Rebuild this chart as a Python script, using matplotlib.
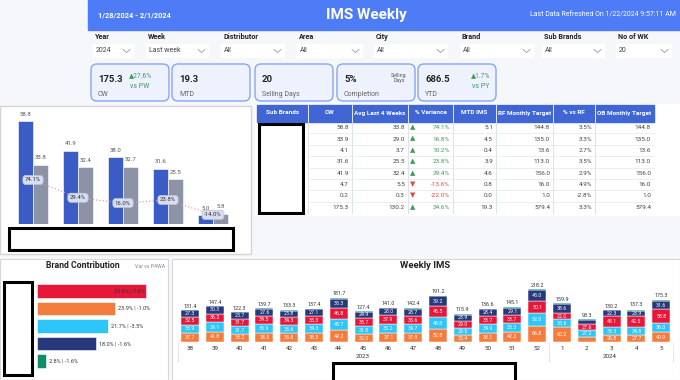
import matplotlib
matplotlib.use('Agg')
import matplotlib.pyplot as plt
from matplotlib.patches import Rectangle, FancyBboxPatch

plt.rcParams['font.family'] = ['Roboto', 'DejaVu Sans']

BLUE_HDR = '#4d7cf6'
BAR_BLUE = '#3b5cc4'
BAR_GRAY = '#8d93a6'
ORANGE = '#f47c3c'
CYAN = '#2ec5fa'
RED = '#e8173a'
NAVY = '#26397d'
GREEN = '#0f8c68'
UP = '#3e9b5a'
DOWN = '#e04848'

# ---- data ----
filter_labels = ['Year', 'Week', 'Distributor', 'Area', 'City', 'Brand', 'Sub Brands', 'No of WK']
filter_values = ['2024', 'Last week', 'All', 'All', 'All', 'All', 'All', '20']

kpi_values = ['175.3', '19.3', '20', '5%', '686.5']
kpi_labels = ['CW', 'MTD', 'Selling Days', 'Completion', 'YTD']

top_cw = [58.8, 41.9, 38.0, 31.6, 5.0]
top_avg = [33.8, 32.4, 32.7, 25.5, 5.8]
top_var = [74.1, 29.4, 16.0, 23.8, -14.0]

tbl_cols = ['Sub Brands', 'CW', 'Avg Last 4 Weeks', '% Variance', 'MTD IMS',
            'RF Monthly Target', '% vs RF', 'OB Monthly Target']
tbl_cw = [58.8, 33.9, 4.1, 31.6, 41.9, 4.7, 0.2, 175.3]
tbl_avg = [33.8, 29.0, 3.7, 25.5, 32.4, 5.5, 0.3, 130.2]
tbl_var = [74.1, 16.8, 10.2, 23.8, 29.4, -13.6, -22.0, 34.6]
tbl_mtd = [5.1, 4.5, 0.4, 3.9, 4.6, 0.8, 0.0, 19.3]
tbl_rf = [144.8, 135.0, 13.6, 113.0, 156.0, 16.0, 1.0, 579.4]
tbl_vs_rf = [3.5, 3.3, 2.7, 3.5, 2.9, 4.9, -2.8, 3.3]
tbl_ob = [144.8, 135.0, 13.6, 113.0, 156.0, 16.0, 1.0, 579.4]

brand_share = [33.6, 23.9, 21.7, 18.0, 2.8]
brand_var = [7.6, -1.0, -3.5, -1.6, -1.6]
brand_colors = [RED, ORANGE, CYAN, NAVY, GREEN]

weeks = ['38', '39', '40', '41', '42', '43', '44', '45', '46', '47', '48', '49', '50', '51', '52',
         '1', '2', '3', '4', '5']
totals = [131.4, 147.4, 122.3, 139.7, 133.3, 137.4, 181.7, 127.4, 141.0, 142.4, 191.2, 115.9,
          136.6, 145.1, 218.2, 159.9, 93.3, 130.2, 137.3, 175.3]
s_orange = [37.7, 41.8, 33.2, 38.5, 35.8, 38.3, 49.2, 32.0, 37.1, 37.9, 52.8, 30.4, 38.1, 42.2,
            66.8, 60.2, 20.5, 26.8, 27.7, 40.9]
s_cyan = [33.9, 39.1, 31.7, 35.9, 33.6, 34.3, 45.7, 31.8, 35.2, 34.7, 48.8, 28.5, 34.9, 35.3,
          52.0, 35.6, 27.2, 33.3, 34.8, 36.0]
s_red = [32.5, 36.2, 31.7, 34.5, 34.3, 35.3, 46.8, 35.7, 37.9, 35.6, 46.5, 29.0, 33.7, 33.7,
         50.1, 22.0, 27.6, 48.1, 42.5, 58.8]
s_navy = [27.3, 30.3, 25.7, 27.6, 25.8, 27.1, 35.3, 24.9, 28.0, 28.7, 39.2, 23.9, 28.4, 29.1,
          45.0, 38.6, 15.5, 22.3, 23.9, 31.6]
s_green = [0.0, 0.0, 0.0, 2.5, 2.5, 2.4, 3.0, 2.5, 2.5, 3.0, 3.5, 2.5, 1.5, 3.0, 4.0, 3.5,
           2.5, 2.0, 3.0, 4.9]

W, H = 680, 380
fig = plt.figure(figsize=(W / 100, H / 100), dpi=100)


def px_axes(x0, y0, x1, y1):
    return fig.add_axes([x0 / W, 1 - y1 / H, (x1 - x0) / W, (y1 - y0) / H])


bg = fig.add_axes([0, 0, 1, 1])
bg.set_xlim(0, W)
bg.set_ylim(H, 0)
bg.axis('off')
bg.add_patch(Rectangle((0, 0), W, H, color='#f6f7fb', zorder=0))

# header
bg.add_patch(Rectangle((88, 0), W - 88, 30, color=BLUE_HDR, zorder=1))
bg.text(98, 15, '1/28/2024 - 2/1/2024', color='white', fontsize=5.3, fontweight='bold',
        va='center', zorder=2)
bg.text(366, 15, 'IMS Weekly', color='white', fontsize=11, fontweight='bold',
        ha='center', va='center', zorder=2)
bg.text(676, 15, 'Last Data Refreshed On 1/22/2024 9:57:11 AM', color='white', fontsize=5,
        ha='right', va='center', zorder=2)

# filters
fx = [93, 146, 221, 297, 374, 460, 542, 616]
fw = [41, 63, 64, 66, 74, 74, 63, 56]
for x, w, lab, val in zip(fx, fw, filter_labels, filter_values):
    bg.text(x + 2, 37, lab, fontsize=5.2, fontweight='bold', color='#222', va='center', zorder=2)
    bg.add_patch(Rectangle((x, 44), w, 14, facecolor='white', edgecolor='none', zorder=1))
    bg.text(x + 3, 51, val, fontsize=5, color='#444', va='center', zorder=2)
    bg.plot([x + w - 11, x + w - 7.5, x + w - 4], [49.5, 52.5, 49.5], color='#999', lw=0.6, zorder=2)

# KPI cards
cx = [91, 172, 255, 337, 418]
for x, v, lab in zip(cx, kpi_values, kpi_labels):
    bg.add_patch(FancyBboxPatch((x, 64), 78, 37, boxstyle='round,pad=0,rounding_size=6',
                                facecolor='#eef2fe', edgecolor='#86a5f7', lw=1, zorder=1))
    bg.text(x + 7, 79, v, fontsize=6.8, fontweight='bold', color='#222', va='center', zorder=2)
    bg.text(x + 7, 95, lab, fontsize=5, color='#666', va='center', zorder=2)
bg.text(140, 76, '▲27.6%', fontsize=4.8, color=UP, ha='center', va='center', zorder=2)
bg.text(140, 86, 'vs PW', fontsize=5, color=UP, ha='center', va='center', zorder=2)
bg.text(399, 78, 'Selling\nDays', fontsize=3.8, color='#555', ha='center', va='center',
        linespacing=1.0, zorder=2)
bg.text(481, 76, '▲1.7%', fontsize=4.8, color=UP, ha='center', va='center', zorder=2)
bg.text(481, 86, 'vs PY', fontsize=5, color=UP, ha='center', va='center', zorder=2)

# panels
bg.add_patch(Rectangle((0, 106), 251, 148, facecolor='white', edgecolor='#d4d4d4', lw=1, zorder=1))
bg.add_patch(Rectangle((255, 104), W - 255, 112, facecolor='white', edgecolor='none', zorder=1))
bg.add_patch(Rectangle((0, 259), 168, 121, facecolor='white', edgecolor='#d8d8d8', lw=0.8, zorder=1))
bg.add_patch(Rectangle((172, 259), W - 172, 121, facecolor='white', edgecolor='#d8d8d8', lw=0.8, zorder=1))

# black placeholder boxes
bg.add_patch(Rectangle((9, 228), 224, 22, facecolor='white', edgecolor='black', lw=2.2, zorder=5))
bg.add_patch(Rectangle((259, 124), 44, 89, facecolor='white', edgecolor='black', lw=2.2, zorder=5))
bg.add_patch(Rectangle((4, 282), 28, 93, facecolor='white', edgecolor='black', lw=2.2, zorder=5))
bg.add_patch(Rectangle((333, 363), 182, 22, facecolor='white', edgecolor='black', lw=2.2, zorder=5))

# ---- table ----
edges = [257, 308, 352, 408, 453, 496, 553, 595, 654]
bg.add_patch(Rectangle((257, 105), 654 - 257, 17, color='#3f66d4', zorder=2))
for i, name in enumerate(tbl_cols):
    bg.text((edges[i] + edges[i + 1]) / 2, 113, name, fontsize=4.6, fontweight='bold',
            color='white', ha='center', va='center', zorder=3)
    if i > 0:
        bg.plot([edges[i], edges[i]], [105, 122], color='white', lw=0.6, zorder=3)
        bg.plot([edges[i], edges[i]], [122, 213], color='#cfd6ea', lw=0.5, zorder=3)
rh = (213 - 122) / 8
cols = [tbl_cw, tbl_avg, None, tbl_mtd, tbl_rf, tbl_vs_rf, tbl_ob]
for r in range(8):
    yc = 122 + rh * (r + 0.5)
    if r < 7:
        bg.plot([308, 654], [122 + rh * (r + 1)] * 2, color='#e6e6e6', lw=0.5, zorder=3)
    for c, vals in enumerate(cols):
        xr = edges[c + 2] - 3
        if vals is None:
            v = tbl_var[r]
            col = UP if v >= 0 else DOWN
            bg.text(413, yc, '▲' if v >= 0 else '▼', fontsize=5, color=col, ha='center',
                    va='center', zorder=3)
            bg.text(xr, yc, f'{v:.1f}%', fontsize=4.6, color=col, ha='right', va='center', zorder=3)
        else:
            txt = f'{vals[r]:.1f}%' if vals is tbl_vs_rf else f'{vals[r]:.1f}'
            bg.text(xr, yc, txt, fontsize=4.6, color='#444', ha='right', va='center', zorder=3)

# ---- left bar chart ----
ax1 = px_axes(8, 110, 238, 224)
n = len(top_cw)
bw = 0.33
xs = list(range(n))
ax1.bar([x - bw / 2 for x in xs], top_cw, width=bw, color=BAR_BLUE, edgecolor='white', lw=0.4)
ax1.bar([x + bw / 2 for x in xs], top_avg, width=bw, color=BAR_GRAY, edgecolor='white', lw=0.4)
for x, a, b in zip(xs, top_cw, top_avg):
    ax1.text(x - bw / 2, a + 2.5, f'{a:.1f}', fontsize=4.3, color='#555', ha='center', va='bottom')
    ax1.text(x + bw / 2, b + 2.5, f'{b:.1f}', fontsize=4.3, color='#555', ha='center', va='bottom')
ax1.set_xlim(-25 / 45, 205 / 45)
ax1.set_ylim(0, 65.1)
ax1.axis('off')
ax1b = ax1.twinx()
ax1b.plot(xs, top_var, color='#f08a8a', lw=0.8, ls=(0, (1, 2)))
for x, v in zip(xs, top_var):
    ax1b.text(x, v, f'{v:.1f}%', fontsize=4.3, color='#333', ha='center', va='center',
              bbox=dict(boxstyle='round,pad=0.35,rounding_size=0.5', fc='#d8ddef', ec='#b9c1dc', lw=0.5))
ax1b.set_ylim(-36.7, 250.3)
ax1b.axis('off')

# ---- brand contribution ----
bg.text(83, 266, 'Brand Contribution', fontsize=6.2, fontweight='bold', color='#222',
        ha='center', va='center', zorder=3)
bg.text(150, 266, 'Var vs P4WA', fontsize=3.8, color='#888', ha='center', va='center', zorder=3)
ax2 = px_axes(37, 282, 168, 370)
ys = list(range(len(brand_share)))
ax2.barh(ys, brand_share, height=0.77, color=brand_colors, edgecolor='white', lw=0.4)
for y, s, v in zip(ys, brand_share, brand_var):
    txt = f'{s:.1f}% | {v:.1f}%'
    if y == 0:
        ax2.text(s - 0.5, y, txt, fontsize=4, color='#333', ha='right', va='center')
    else:
        ax2.text(s + 1, y, txt, fontsize=4, color='#333', ha='left', va='center')
ax2.set_xlim(0, 40.2)
ax2.set_ylim(len(ys) - 0.5, -0.5)
ax2.axis('off')

# ---- weekly IMS ----
bg.text(425, 266, 'Weekly IMS', fontsize=6.8, fontweight='bold', color='#222',
        ha='center', va='center', zorder=3)
ax3 = px_axes(178, 285, 672, 342)
wx = list(range(len(weeks)))
bottom = [0.0] * len(weeks)
for seg, colr in [(s_orange, ORANGE), (s_cyan, CYAN), (s_red, RED), (s_navy, NAVY), (s_green, GREEN)]:
    ax3.bar(wx, seg, width=0.73, bottom=bottom, color=colr, edgecolor='white', lw=0.35)
    if colr != GREEN:
        for x, b, v in zip(wx, bottom, seg):
            if v > 21:
                ax3.text(x, b + v / 2, f'{v:.1f}', fontsize=3.8, color='white',
                         ha='center', va='center')
    bottom = [b + v for b, v in zip(bottom, seg)]
for x, t in zip(wx, totals):
    ax3.text(x, t + 6, f'{t:.1f}', fontsize=3.9, color='#333', ha='center', va='bottom')
ax3.set_xlim(-12 / 24.8, 482 / 24.8)
ax3.set_ylim(0, 234.6)
ax3.set_xticks(wx)
ax3.set_xticklabels(weeks, fontsize=4.5, color='#333')
ax3.tick_params(axis='x', length=0, pad=3)
ax3.set_yticks([])
for sp in ax3.spines.values():
    sp.set_visible(False)
bg.text(363, 356, '2023', fontsize=4.5, color='#333', ha='center', va='center', zorder=3)
bg.text(610, 356, '2024', fontsize=4.5, color='#333', ha='center', va='center', zorder=3)
for xd in [178, 549, 673]:
    bg.plot([xd, xd], [343, 362], color='#bbbbbb', lw=0.6, ls=(0, (1, 1.5)), zorder=3)

fig.savefig('out.png', dpi=100)
